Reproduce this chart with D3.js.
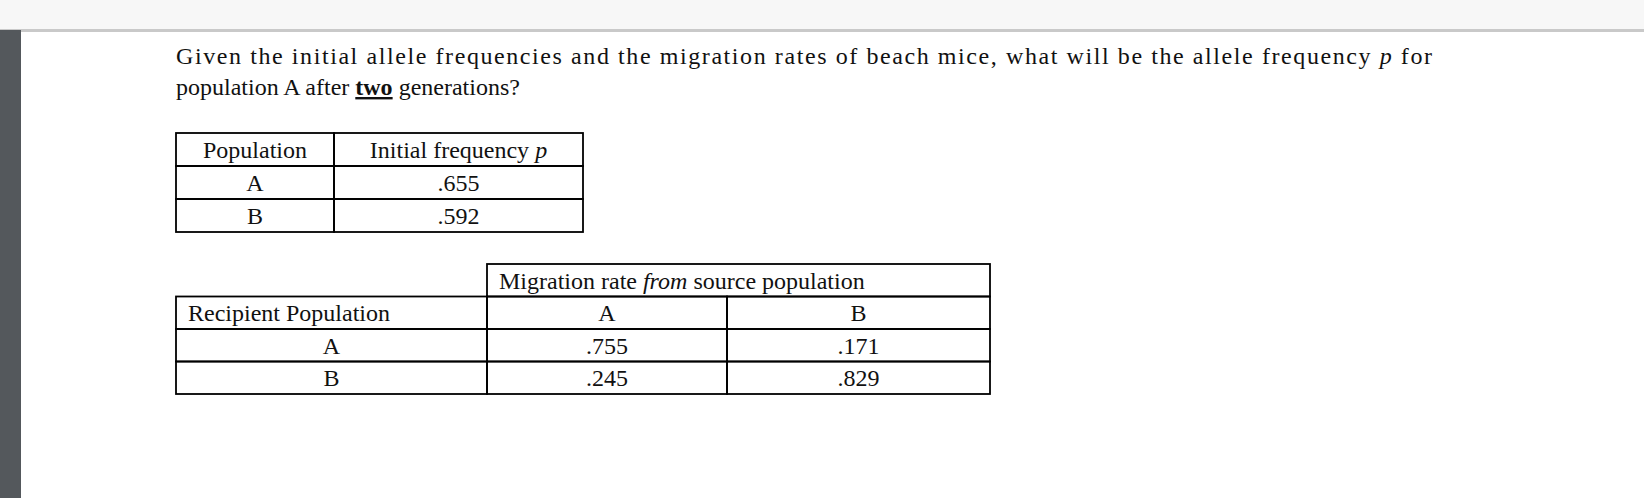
<!DOCTYPE html>
<html>
<head>
<meta charset="utf-8">
<script src="https://cdn.jsdelivr.net/npm/d3@7"></script>
<style>
  body { margin: 0; background: #fff; }
  text { font-family: "Liberation Serif", serif; fill: #111; }
</style>
</head>
<body>
<svg id="chart" width="1644" height="498"></svg>
<script>
// data
const question = ["Given the initial allele frequencies and the migration rates of beach mice, what will be the allele frequency ", "p", " for"]
const populations = ["A", "B"]
const initialFreq = [".655", ".592"]
const recipients = ["A", "B"]
const sources = ["A", "B"]
const fromA = [".755", ".245"]
const fromB = [".171", ".829"]

const W = 1644, H = 498
const svg = d3.select("#chart")

// page chrome
svg.append("rect").attr("width", W).attr("height", 29).attr("fill", "#f7f7f7")
svg.append("rect").attr("y", 29).attr("width", W).attr("height", 3).attr("fill", "#c9c9c9")
svg.append("rect").attr("y", 30).attr("width", 21).attr("height", H - 30).attr("fill", "#54585c")

const fs = 24
// question text
let t1 = svg.append("text").attr("x", 176).attr("y", 64).style("font-size", fs + "px")
  .attr("textLength", 1256).attr("lengthAdjust", "spacing")
t1.append("tspan").text(question[0])
t1.append("tspan").style("font-style", "italic").text(question[1])
t1.append("tspan").text(question[2])
let t2 = svg.append("text").attr("x", 176).attr("y", 95).style("font-size", fs + "px")
t2.append("tspan").text("population A after ")
t2.append("tspan").style("font-weight", "bold").style("text-decoration", "underline").text("two")
t2.append("tspan").text(" generations?")

function cell(x0, x1, y0, y1, txt, opts = {}) {
  svg.append("rect").attr("x", x0).attr("y", y0).attr("width", x1 - x0).attr("height", y1 - y0)
    .attr("fill", "none").attr("stroke", "#000").attr("stroke-width", 1.8)
  const t = svg.append("text").attr("y", y1 - 8).style("font-size", fs + "px")
    .attr("x", opts.left ? x0 + 12 : (x0 + x1) / 2).attr("text-anchor", opts.left ? "start" : "middle")
  if (Array.isArray(txt)) {
    txt.forEach(([s, it]) => t.append("tspan").style("font-style", it ? "italic" : null).text(s))
  } else t.text(txt)
}

// table 1
const y1 = d3.scaleBand().domain(["h", ...populations]).range([133, 232])
const x1 = [176, 334, 583]
cell(x1[0], x1[1], y1("h"), y1("h") + y1.bandwidth(), "Population")
cell(x1[1], x1[2], y1("h"), y1("h") + y1.bandwidth(), [["Initial frequency ", false], ["p", true]])
populations.forEach((p, i) => {
  cell(x1[0], x1[1], y1(p), y1(p) + y1.bandwidth(), p)
  cell(x1[1], x1[2], y1(p), y1(p) + y1.bandwidth(), initialFreq[i])
})

// table 2
const y2 = d3.scaleBand().domain(["top", "h", ...recipients]).range([264, 394])
const x2 = [176, 487, 727, 990]
cell(x2[1], x2[3], y2("top"), y2("top") + y2.bandwidth(), [["Migration rate ", false], ["from", true], [" source population", false]], { left: true })
cell(x2[0], x2[1], y2("h"), y2("h") + y2.bandwidth(), "Recipient Population", { left: true })
sources.forEach((s, j) => cell(x2[j + 1], x2[j + 2], y2("h"), y2("h") + y2.bandwidth(), s))
recipients.forEach((r, i) => {
  const a = y2(r), b = a + y2.bandwidth()
  cell(x2[0], x2[1], a, b, r)
  cell(x2[1], x2[2], a, b, fromA[i])
  cell(x2[2], x2[3], a, b, fromB[i])
})
</script>
</body>
</html>
